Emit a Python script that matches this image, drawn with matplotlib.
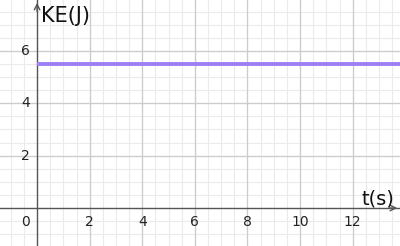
import numpy as np
import matplotlib
matplotlib.use("Agg")
import matplotlib.pyplot as plt

# data
t_vals = [0, 14]
ke_vals = [5.5, 5.5]
x_ticks = [2, 4, 6, 8, 10, 12]
y_ticks = [2, 4, 6]

fig = plt.figure(figsize=(4, 2.46), dpi=100)
ax = fig.add_axes([0, 0, 1, 1])
ax.set_xlim(-1.41, 13.8)
ax.set_ylim(-1.45, 7.94)

# grid: minor every 0.5, major every 2
for x in np.arange(-1.0, 14.0, 0.5):
    ax.axvline(x, color="#ebebeb", lw=0.8, zorder=0)
for y in np.arange(-1.0, 8.0, 0.5):
    ax.axhline(y, color="#ebebeb", lw=0.8, zorder=0)
for x in x_ticks:
    ax.axvline(x, color="#cccccc", lw=0.9, zorder=1)
for y in y_ticks:
    ax.axhline(y, color="#cccccc", lw=0.9, zorder=1)

# axes
ax.axhline(0, color="#555555", lw=1.0, zorder=2)
ax.axvline(0, color="#555555", lw=1.0, zorder=2)
ax.annotate("", xy=(13.8, 0), xytext=(13.3, 0),
            arrowprops=dict(arrowstyle="->", color="#555555", lw=1.0))
ax.annotate("", xy=(0, 7.94), xytext=(0, 7.4),
            arrowprops=dict(arrowstyle="->", color="#555555", lw=1.0))

ax.plot(t_vals, ke_vals, color="#9d80f3", lw=2.8, zorder=3, solid_capstyle="butt")

for x in x_ticks:
    ax.text(x, -0.53, str(x), ha="center", va="center", fontsize=10, color="#222222")
for y in y_ticks:
    ax.text(-0.43, y, str(y), ha="center", va="center", fontsize=10, color="#222222")
ax.text(-0.43, -0.53, "0", ha="center", va="center", fontsize=10, color="#222222")

ax.text(0.16, 7.33, "KE(J)", ha="left", va="center", fontsize=15, color="#111111", zorder=4)
ax.text(12.35, 0.34, "t(s)", ha="left", va="center", fontsize=14, color="#111111", zorder=4)

ax.axis("off")
fig.savefig("out.png", dpi=100)
